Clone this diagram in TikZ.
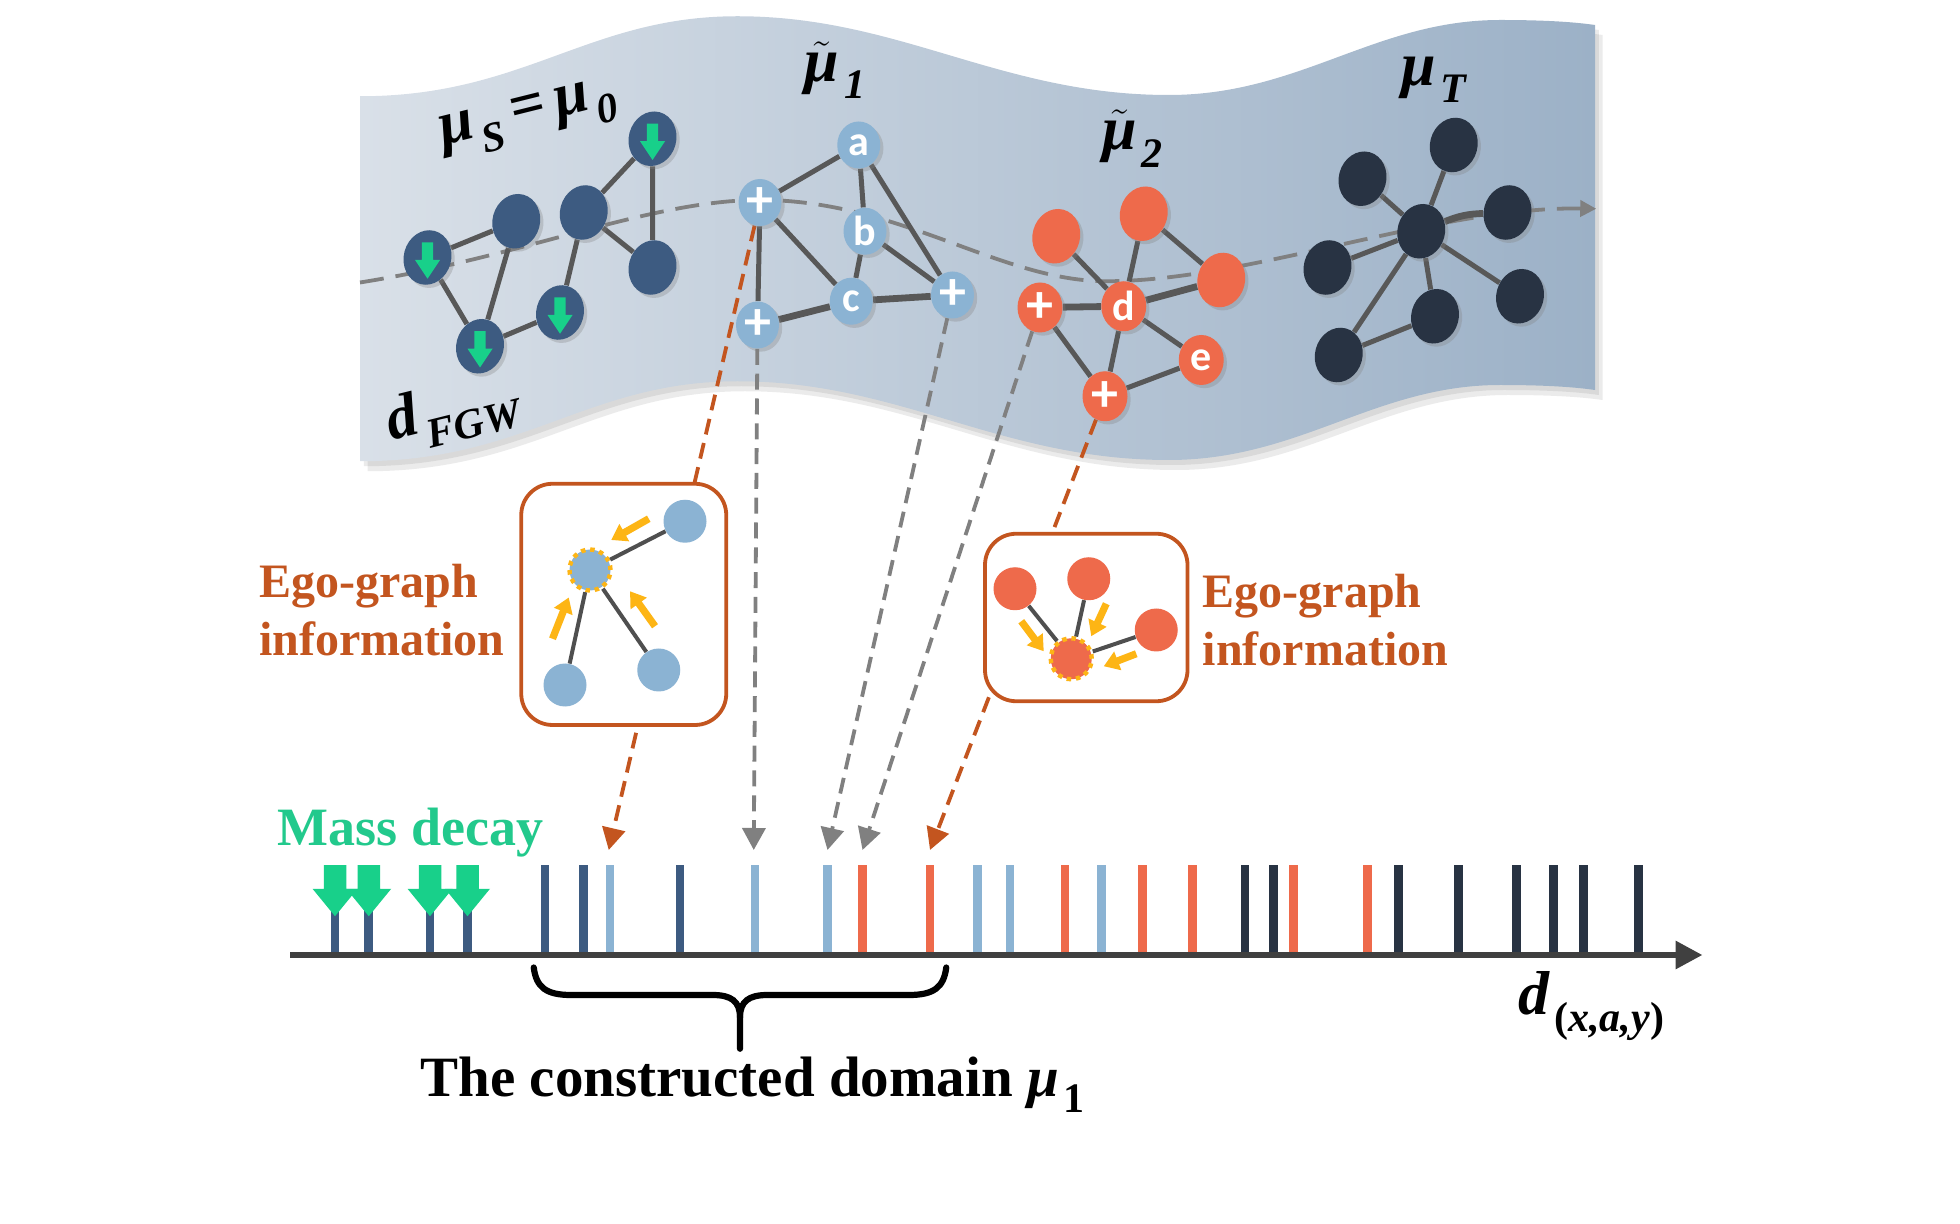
\documentclass[tikz,border=0pt]{standalone}
\usepackage[no-math]{fontspec}
\newfontfamily\tnr{Liberation Serif}
\newfontfamily\calib{Carlito}
\usetikzlibrary{arrows.meta,shapes.geometric,shadows,calc}
\definecolor{bandL}{HTML}{D9E0E8}
\definecolor{bandR}{HTML}{9CB1C7}
\definecolor{cS}{HTML}{3D5B81}
\definecolor{cL}{HTML}{8BB3D3}
\definecolor{cO}{HTML}{EE6A4B}
\definecolor{cT}{HTML}{283343}
\definecolor{cE}{HTML}{585858}
\definecolor{rust}{HTML}{C3551F}
\definecolor{ylw}{HTML}{FDB515}
\definecolor{grn}{HTML}{18D08A}
\definecolor{grntxt}{HTML}{22C98C}
\definecolor{axisc}{HTML}{404040}
\definecolor{dgray}{HTML}{808080}
\pgfdeclarelayer{bandlayer}
\pgfdeclarelayer{edgelayer}
\pgfsetlayers{bandlayer,edgelayer,main}
\newcommand\lblfont{\calib\bfseries\fontsize{21}{21}\selectfont}
\newcommand\plusfont{\calib\bfseries\fontsize{27}{27}\selectfont}
\newcommand\mlab{\tnr\bfseries\itshape\fontsize{31}{34}\selectfont}
\newcommand\sbs[1]{\kern0.08em\raisebox{-0.28em}{\fontsize{21}{21}\selectfont #1}}
\newcommand\tmu{\ensuremath{\tilde{\hbox{μ}}}}
\newcommand\bandpath{(288,77) .. controls (420,77) and (470,13) .. (590,13) .. controls (720,13) and (800,76) .. (935,76) .. controls (1040,76) and (1100,16) .. (1200,16) .. controls (1240,16) and (1262,18) .. (1276,20) -- (1276,312) .. controls (1262,310) and (1240,308) .. (1200,308) .. controls (1100,308) and (1040,368) .. (935,368) .. controls (800,368) and (720,305) .. (590,305) .. controls (470,305) and (420,369) .. (288,369) -- cycle}
\newcommand\grnarr[1]{\fill[grn] ($(#1)+(-4.5,-12)$) -- ++(9,0) -- ++(0,14) -- ++(5.5,0) -- ++(-10,15) -- ++(-10,-15) -- ++(5.5,0) -- cycle;}
\tikzset{
  shad/.style={drop shadow={shadow xshift=1.6pt,shadow yshift=-1.6pt,opacity=0.3}},
  bignode/.style={ellipse,inner sep=0pt,minimum width=23.75pt,minimum height=27.5pt,rotate=-15,shad},
  sn/.style={bignode,fill=cS},
  onode/.style={bignode,fill=cO},
  tn/.style={bignode,fill=cT},
  ln/.style={ellipse,inner sep=0pt,minimum width=21.5pt,minimum height=23.5pt,fill=cL,text=white,font=\lblfont,shad},
  olab/.style={ellipse,inner sep=0pt,minimum width=22.5pt,minimum height=25pt,fill=cO,text=white,font=\lblfont,shad},
  gedge/.style={draw=cE,line width=2.5pt},
  gedgeT/.style={draw=cE,line width=3.4pt},
  traj/.style={draw=dgray,line width=1.9pt,dash pattern=on 12pt off 6pt,-{Triangle[length=8pt,width=8pt]}},
  gdash/.style={draw=dgray,line width=1.9pt,dash pattern=on 8pt off 4.4pt,-{Triangle[length=11pt,width=11.5pt]}},
  odash/.style={draw=rust,line width=1.9pt,dash pattern=on 8pt off 4.4pt,-{Triangle[length=11pt,width=11.5pt]}},
  egobox/.style={draw=rust,line width=1.9pt,rounded corners=15.6pt,fill=white},
  ball/.style={circle,inner sep=0pt,minimum size=21.5pt},
  egocenter/.style={ball,minimum size=20.5pt,draw=ylw,line width=2.2pt,dash pattern=on 2.2pt off 2.4pt},
  smedge/.style={draw=cE!90!black,line width=2pt},
  yarr/.style={draw=ylw,line width=3.6pt,-{Triangle[length=7.5pt,width=9.5pt]}},
  egotext/.style={font=\tnr\bfseries\fontsize{24}{29}\selectfont,text=rust,align=left,inner sep=0pt},
}
\begin{document}
\begin{tikzpicture}[x=0.625pt,y=-0.625pt]
\useasboundingbox (0,0) rectangle (1568,979.2);
% ---------- band ----------
\begin{pgfonlayer}{bandlayer}
\fill[black,opacity=0.08,shift={(3,4)}] \bandpath;
\fill[black,opacity=0.08,shift={(6,8)}] \bandpath;
\shade[left color=bandL,right color=bandR] \bandpath;
\end{pgfonlayer}
% ---------- graph mu_S ----------
\node[sn] (s1) at (342,206) {};
\node[sn] (s2) at (413,177) {};
\node[sn] (s3) at (467,170) {};
\node[sn] (s4) at (522,111) {};
\node[sn] (s5) at (522,214) {};
\node[sn] (s6) at (384,277) {};
\node[sn] (s7) at (448,250) {};
\grnarr{s1}\grnarr{s4}\grnarr{s6}\grnarr{s7}
% ---------- graph mu_1 ----------
\node[ln,font=\plusfont] (p1) at (608,162) {+};
\node[ln] (a) at (687,116) {a};
\node[ln] (b) at (692,185) {b};
\node[ln] (c) at (681,241) {c};
\node[ln,font=\plusfont] (p2) at (606,260) {+};
\node[ln,font=\plusfont] (p3) at (762,236) {+};
% ---------- graph mu_2 ----------
\node[onode] (o1) at (845,189) {};
\node[onode] (o2) at (915,171) {};
\node[onode] (o3) at (977,224) {};
\node[olab,font=\plusfont] (q1) at (832,246) {+};
\node[olab] (d) at (899,245) {d};
\node[olab] (e) at (961,288) {e};
\node[olab,font=\plusfont] (q2) at (884,317) {+};
% ---------- graph mu_T ----------
\node[tn] (t0) at (1137,185) {};
\node[tn] (t1) at (1163,116) {};
\node[tn] (t2) at (1090,143) {};
\node[tn] (t3) at (1206,170) {};
\node[tn] (t4) at (1062,214) {};
\node[tn] (t5) at (1216,237) {};
\node[tn] (t6) at (1148,253) {};
\node[tn] (t7) at (1071,284) {};
% ---------- labels ----------
\node[font=\mlab,rotate=14,inner sep=1pt] (lS) at (423,95) {μ\sbs{S}\,=\,μ\sbs{0}};
\node[font=\mlab,inner sep=1pt] (l1) at (668,56) {\tmu\sbs{1}};
\node[font=\mlab,inner sep=1pt] (l2) at (906,111) {\tmu\sbs{2}};
\node[font=\mlab,inner sep=1pt] (lT) at (1147,64) {μ\sbs{T}};
\node[font=\mlab,rotate=14,inner sep=1pt] (lF) at (362,330) {d\sbs{FGW}};
\node[font=\mlab,inner sep=1pt] (lD) at (1273,805) {d\sbs{\upshape(\itshape x,a,y\upshape)}};
% ---------- coordinates ----------
\coordinate (trS) at (288,226);
\coordinate (trE) at (1277,167);
\coordinate (g1) at (603,680);
\coordinate (g2) at (662,680);
\coordinate (g3) at (690,680);
\coordinate (k1) at (487,680);
\coordinate (k2) at (744,680);
% ---------- edges ----------
\begin{pgfonlayer}{edgelayer}
\draw[traj] (trS) .. controls (420,205) and (520,160) .. (608,160) .. controls (720,160) and (800,225) .. (885,225) .. controls (1000,225) and (1150,165) .. (trE);
\draw[gedge] (s1)--(s2) (s1)--(s6) (s2)--(s6) (s6)--(s7) (s7)--(s3) (s3)--(s4) (s3)--(s5) (s4)--(s5);
\draw[gedge] (p1)--(a) (p1)--(p2) (p1)--(c) (a)--(b) (a)--(p3) (b)--(c) (b)--(p3);
\draw[gedgeT] (c)--(p2) (c)--(p3);
\draw[gedge] (o1)--(d) (o2)--(d) (o2)--(o3) (q1)--(q2) (d)--(q2) (d)--(e) (e)--(q2);
\draw[gedgeT] (d)--(o3) (q1)--(d);
\draw[gedge] (t0)--(t1) (t0)--(t2) (t0)--(t4) (t0)--(t5) (t0)--(t6) (t0)--(t7) (t6)--(t7);
\draw[gedgeT] (t0) to[bend left=10] (t3);
\draw[gdash] (p2) -- (g1);
\draw[gdash] (p3) -- (g2);
\draw[gdash] (q1) -- (g3);
\draw[odash] (p1) -- (k1);
\draw[odash] (q2) -- (k2);
\end{pgfonlayer}
% ---------- ego-graph boxes ----------
\node[egobox,minimum width=102.5pt,minimum height=120.6pt] (lbox) at (499,483.5) {};
\node[egobox,minimum width=101.25pt,minimum height=83.75pt] (rbox) at (869,494) {};
\node[egocenter,fill=cL] (lc) at (472,456) {};
\node[ball,fill=cL] (l1n) at (548,417) {};
\node[ball,fill=cL] (l2n) at (452,548) {};
\node[ball,fill=cL] (l3n) at (527,536) {};
\draw[smedge] (lc) -- (l1n);
\draw[smedge] (lc) -- (l2n);
\draw[smedge] (lc) -- (l3n);
\node[egocenter,fill=cO] (rc) at (857,527) {};
\node[ball,fill=cO] (r1n) at (812,471) {};
\node[ball,fill=cO] (r2n) at (871,463) {};
\node[ball,fill=cO] (r3n) at (925,504) {};
\draw[smedge] (rc) -- (r1n);
\draw[smedge] (rc) -- (r2n);
\draw[smedge] (rc) -- (r3n);
\coordinate (ya1) at (519,415); \coordinate (yb1) at (489,432);
\coordinate (ya2) at (442,511); \coordinate (yb2) at (455,478);
\coordinate (ya3) at (524,501); \coordinate (yb3) at (504,473);
\coordinate (ya4) at (817,497); \coordinate (yb4) at (835,521);
\coordinate (ya5) at (885,483); \coordinate (yb5) at (873,509);
\coordinate (ya6) at (909,523); \coordinate (yb6) at (883,533);
\draw[yarr] (ya1) -- (yb1);
\draw[yarr] (ya2) -- (yb2);
\draw[yarr] (ya3) -- (yb3);
\draw[yarr] (ya4) -- (yb4);
\draw[yarr] (ya5) -- (yb5);
\draw[yarr] (ya6) -- (yb6);
\node[egotext,anchor=north west] (lt) at (207,451) {Ego-graph\\information};
\node[egotext,anchor=north west] (rt) at (962,459) {Ego-graph\\information};
% ---------- axis and bars ----------
\foreach \bx/\bc in {268/cS,295/cS,344/cS,374/cS,436/cS,467/cS,488/cL,544/cS,604/cL,662/cL,690/cO,744/cO,782/cL,808/cL,852/cO,881/cL,914/cO,954/cO,996/cT,1019/cT,1035/cO,1094/cO,1119/cT,1167/cT,1213/cT,1243/cT,1267/cT,1311/cT}
  \draw[\bc,line width=4.4pt] (\bx,692) -- (\bx,762);
\coordinate (axL) at (232,764);
\coordinate (axR) at (1362,764);
\draw[axisc,line width=3.1pt,-{Triangle[length=13.5pt,width=13.5pt]}] (axL) -- (axR);
\foreach \bx in {268,295,344,374}
  \fill[grn] (\bx-9,692) -- (\bx+9,692) -- (\bx+9,711) -- (\bx+18,711) -- (\bx,733) -- (\bx-18,711) -- (\bx-9,711) -- cycle;
\node[font=\tnr\bfseries\fontsize{27}{30}\selectfont,text=grntxt,anchor=base west,inner sep=0pt] (md) at (222,676) {Mass decay};
% ---------- brace and title ----------
\draw[black,line width=3.1pt,line cap=round] (427,774) .. controls (429,790) and (437,796) .. (457,796) -- (570,796) .. controls (585,796) and (592,801) .. (592,814) -- (592,839);
\draw[black,line width=3.1pt,line cap=round] (757,774) .. controls (755,790) and (747,796) .. (727,796) -- (614,796) .. controls (599,796) and (592,801) .. (592,814);
\node[font=\tnr\bfseries\fontsize{28.5}{32}\selectfont,anchor=base,inner sep=0pt] (ttl) at (602,877) {The constructed domain {\itshape μ}\sbs{1}};
\end{tikzpicture}
\end{document}
